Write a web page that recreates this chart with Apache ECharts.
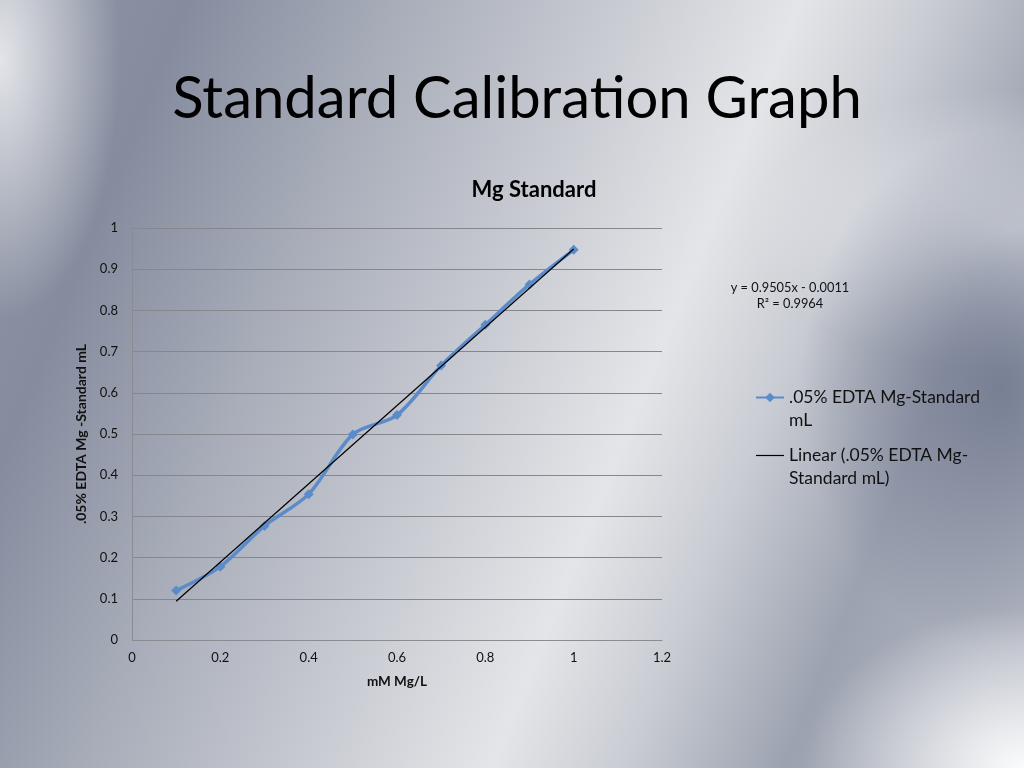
<!DOCTYPE html>
<html>
<head>
<meta charset="utf-8">
<title>Standard Calibration Graph</title>
<script src="https://cdn.jsdelivr.net/npm/echarts@6/dist/echarts.min.js"></script>
<style>
  html, body { margin: 0; padding: 0; }
  body {
    width: 1024px;
    height: 768px;
    overflow: hidden;
    background:
      radial-gradient(ellipse 220px 160px at 1024px 768px, rgba(255,255,255,0.95), rgba(255,255,255,0) 100%),
      radial-gradient(ellipse 200px 260px at 1000px 390px, rgba(112,120,142,0.85), rgba(112,120,142,0) 100%),
      radial-gradient(ellipse 260px 140px at 1010px 230px, rgba(240,241,244,0.8), rgba(240,241,244,0) 100%),
      radial-gradient(ellipse 120px 260px at 0px 60px, rgba(236,237,240,0.9), rgba(236,237,240,0) 100%),
      linear-gradient(112deg, #9096a6 0%, #858c9e 14%, #a8adb9 30%, #ccced5 48%, #e4e5e8 60%, #c9ccd3 70%, #9ca2b0 82%, #b8bcc6 100%);
  }
  #chart { width: 1024px; height: 768px; }
</style>
</head>
<body>
<div id="chart"></div>
<script>
const xValues = [0.1, 0.2, 0.3, 0.4, 0.5, 0.6, 0.7, 0.8, 0.9, 1.0];
const edtaValues = [0.12, 0.178, 0.277, 0.354, 0.499, 0.546, 0.666, 0.765, 0.863, 0.947];
// trendline end points
const trendX = [0.1, 1.0];
const trendY = [0.094, 0.949];
const equationLines = ["y = 0.9505x - 0.0011", "R² = 0.9964"];

const seriesName = ".05% EDTA Mg-Standard mL";
const trendName = "Linear (.05% EDTA Mg-Standard mL)";
// leading blank line keeps the icon level with the first text line
const legendLabels = {};
legendLabels[seriesName] = "\n.05% EDTA Mg-Standard\nmL";
legendLabels[trendName] = "\nLinear (.05% EDTA Mg-\nStandard mL)";

const font = "Lato, 'Open Sans', sans-serif";

const chart = echarts.init(document.getElementById("chart"));

const option = {
  backgroundColor: "transparent",
  animation: false,
  title: [
    {
      text: "Standard Calibration Graph",
      left: 512,
      top: 65,
      textAlign: "center",
      textStyle: { fontFamily: font, fontSize: 58, fontWeight: "normal", color: "#000" },
    },
    {
      text: "Mg Standard",
      left: 529,
      top: 174,
      textAlign: "center",
      textStyle: { fontFamily: font, fontSize: 22, fontWeight: "bold", color: "#000" },
    },
  ],
  grid: { left: 132, right: 362, top: 228, bottom: 128 },
  legend: {
    orient: "vertical",
    left: 755,
    top: 363,
    padding: 0,
    itemWidth: 28,
    itemHeight: 12,
    itemGap: -11,
    data: [
      { name: seriesName },
      { name: trendName, icon: "path://M0,0H28V1.2H0Z" },
    ],
    formatter: (name) => legendLabels[name],
    textStyle: {
      fontFamily: font,
      fontSize: 17.5,
      color: "#111",
      lineHeight: 23,
    },
  },
  xAxis: {
    type: "value",
    min: 0,
    max: 1.2,
    interval: 0.2,
    name: "mM Mg/L",
    nameLocation: "middle",
    nameGap: 35,
    nameTextStyle: { fontFamily: font, fontSize: 13.5, fontWeight: "bold", color: "#111" },
    axisLine: { show: true, lineStyle: { color: "#8a8c92", width: 1 } },
    axisTick: { show: false },
    axisLabel: { fontFamily: font, fontSize: 13, color: "#111", margin: 11 },
    splitLine: { show: false },
  },
  yAxis: {
    type: "value",
    min: 0,
    max: 1,
    interval: 0.1,
    name: ".05% EDTA Mg -Standard mL",
    nameLocation: "middle",
    nameGap: 42,
    nameTextStyle: { fontFamily: font, fontSize: 14, fontWeight: "bold", color: "#111" },
    axisLine: { show: true, lineStyle: { color: "#8a8c92", width: 1 } },
    axisTick: { show: false },
    axisLabel: { fontFamily: font, fontSize: 13, color: "#111", margin: 14 },
    splitLine: { show: true, lineStyle: { color: "#85878d", width: 1 } },
  },
  series: [
    {
      name: seriesName,
      type: "line",
      smooth: 0.3,
      data: xValues.map((x, i) => [x, edtaValues[i]]),
      symbol: "diamond",
      symbolSize: 10,
      lineStyle: { color: "#5b8bc9", width: 3.5 },
      itemStyle: { color: "#5b8bc9" },
      z: 2,
    },
    {
      name: trendName,
      type: "line",
      data: trendX.map((x, i) => [x, trendY[i]]),
      symbol: "none",
      lineStyle: { color: "#000", width: 1.2 },
      itemStyle: { color: "#000" },
      z: 3,
    },
  ],
  graphic: [
    {
      type: "text",
      x: 790,
      y: 280,
      style: {
        text: equationLines.join("\n"),
        fontFamily: font,
        fontSize: 12.8,
        lineHeight: 16,
        fill: "#111",
        align: "center",
      },
    },
  ],
};

chart.setOption(option);
</script>
</body>
</html>
